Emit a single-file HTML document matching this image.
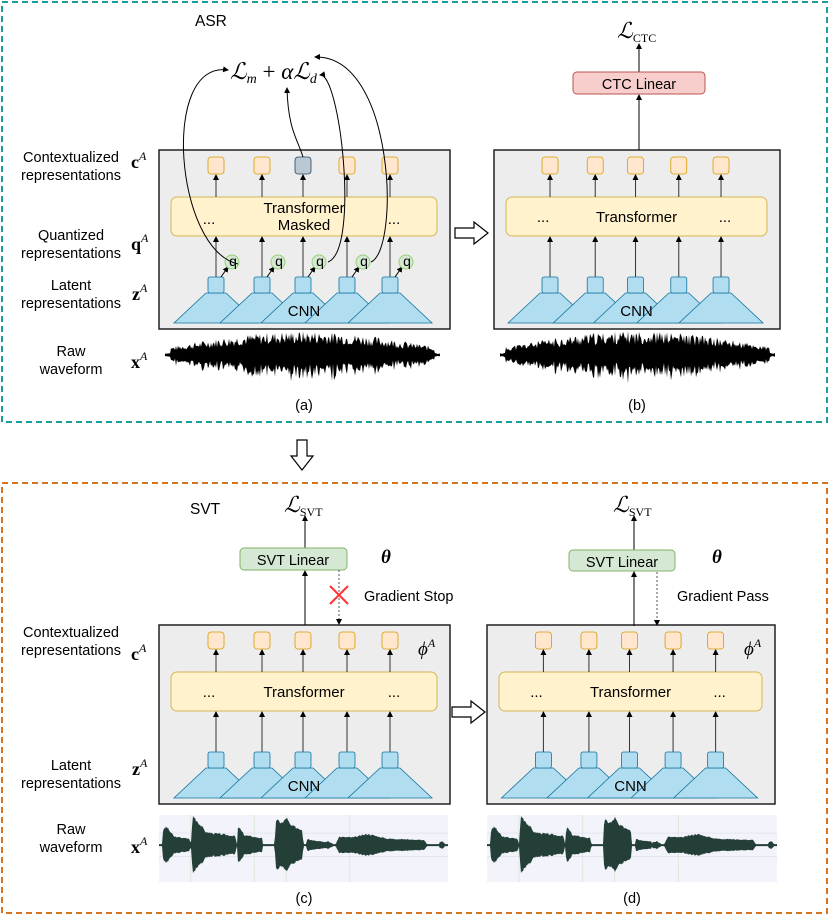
<!DOCTYPE html>
<html><head><meta charset="utf-8">
<style>
html,body{margin:0;padding:0;background:#fff;}
svg{display:block;}
text{font-family:"Liberation Sans",sans-serif;}
.m{font-family:"Liberation Serif",serif;font-style:italic;}
.b{font-family:"Liberation Serif",serif;font-weight:bold;}
</style></head>
<body>
<svg id="s" width="830" height="916" viewBox="0 0 830 916" xmlns="http://www.w3.org/2000/svg">
<defs>
<marker id="ar" markerWidth="6" markerHeight="6" refX="5" refY="3" orient="auto" markerUnits="userSpaceOnUse"><path d="M0,0 L6,3 L0,6 z" fill="#000"/></marker>
</defs>
<rect x="2" y="2" width="825" height="420" fill="none" stroke="#1b9e9b" stroke-width="2" stroke-dasharray="6,4"/>
<rect x="2" y="483" width="825" height="430" fill="none" stroke="#d5731f" stroke-width="2" stroke-dasharray="6,4"/>
<text x="195" y="26" font-size="15.5">ASR</text>
<text x="190" y="514" font-size="15.5">SVT</text>
<g id="g"></g>
<g font-size="14.5" text-anchor="middle">
<text x="71" y="162">Contextualized</text><text x="71" y="180">representations</text>
<text x="71" y="240">Quantized</text><text x="71" y="258">representations</text>
<text x="71" y="290">Latent</text><text x="71" y="308">representations</text>
<text x="71" y="356">Raw</text><text x="71" y="374">waveform</text>
<text x="71" y="637">Contextualized</text><text x="71" y="655">representations</text>
<text x="71" y="770">Latent</text><text x="71" y="788">representations</text>
<text x="71" y="834">Raw</text><text x="71" y="852">waveform</text>
</g>
<g font-size="18">
<text x="131" y="168" class="b">c<tspan font-size="12" dy="-8" class="m" font-weight="normal">A</tspan></text>
<text x="131" y="250" class="b">q<tspan font-size="12" dy="-8" class="m" font-weight="normal">A</tspan></text>
<text x="132" y="300" class="b">z<tspan font-size="12" dy="-8" class="m" font-weight="normal">A</tspan></text>
<text x="131" y="368" class="b">x<tspan font-size="12" dy="-8" class="m" font-weight="normal">A</tspan></text>
<text x="131" y="660" class="b">c<tspan font-size="12" dy="-8" class="m" font-weight="normal">A</tspan></text>
<text x="132" y="775" class="b">z<tspan font-size="12" dy="-8" class="m" font-weight="normal">A</tspan></text>
<text x="131" y="853" class="b">x<tspan font-size="12" dy="-8" class="m" font-weight="normal">A</tspan></text>
</g>
<text x="230" y="79" font-size="23" class="m">ℒ<tspan font-size="14" dy="4">m</tspan><tspan dy="-4" font-style="normal"> + </tspan>αℒ<tspan font-size="14" dy="4">d</tspan></text>
<text x="617" y="38" font-size="22" class="m">ℒ<tspan font-size="12" dy="4" font-style="normal">CTC</tspan></text>
<text x="284" y="512" font-size="22" class="m">ℒ<tspan font-size="12" dy="4" font-style="normal">SVT</tspan></text>
<text x="613" y="512" font-size="22" class="m">ℒ<tspan font-size="12" dy="4" font-style="normal">SVT</tspan></text>
<line x1="639" y1="72" x2="639" y2="44" stroke="#000" marker-end="url(#ar)"/>
<rect x="573" y="72" width="132" height="22" rx="4" fill="#f8cecc" stroke="#b85450"/>
<text x="639" y="89" font-size="14.5" text-anchor="middle">CTC Linear</text>
<line x1="639" y1="150" x2="639" y2="95" stroke="#000" marker-end="url(#ar)"/>

<line x1="305" y1="548" x2="305" y2="516" stroke="#000" marker-end="url(#ar)"/>
<rect x="240" y="548" width="107" height="22" rx="4" fill="#d5e8d4" stroke="#82b366"/>
<text x="293" y="565" font-size="14.5" text-anchor="middle">SVT Linear</text>
<line x1="305" y1="625" x2="305" y2="571" stroke="#000" marker-end="url(#ar)"/>
<line x1="339" y1="570" x2="339" y2="624" stroke="#555" stroke-dasharray="2,2" marker-end="url(#ar)"/>
<path d="M330,586 L348,604 M348,586 L330,604" stroke="#f33" stroke-width="2"/>
<text x="364" y="601" font-size="14.5">Gradient  Stop</text>
<text x="381" y="563" font-size="19" class="m" font-weight="bold">θ</text>

<line x1="634" y1="550" x2="634" y2="516" stroke="#000" marker-end="url(#ar)"/>
<rect x="569" y="550" width="106" height="21" rx="4" fill="#d5e8d4" stroke="#82b366"/>
<text x="622" y="567" font-size="14.5" text-anchor="middle">SVT Linear</text>
<line x1="634" y1="626" x2="634" y2="572" stroke="#000" marker-end="url(#ar)"/>
<line x1="657" y1="572" x2="657" y2="625" stroke="#555" stroke-dasharray="2,2" marker-end="url(#ar)"/>
<text x="677" y="601" font-size="14.5">Gradient  Pass</text>
<text x="712" y="563" font-size="19" class="m" font-weight="bold">θ</text>
<text x="418" y="655" font-size="19" class="m">ϕ<tspan font-size="12" dy="-8">A</tspan></text>
<text x="744" y="655" font-size="19" class="m">ϕ<tspan font-size="12" dy="-8">A</tspan></text>

<g font-size="14.5" text-anchor="middle">
<text x="304" y="410">(a)</text><text x="637" y="410">(b)</text>
<text x="304" y="903">(c)</text><text x="632" y="903">(d)</text>
</g>
<path d="M455,228 L474,228 L474,222 L488,233 L474,244 L474,238 L455,238 z" fill="#fff" stroke="#000" stroke-width="1.2"/>
<path d="M452,707 L471,707 L471,701 L485,712 L471,723 L471,717 L452,717 z" fill="#fff" stroke="#000" stroke-width="1.2"/>
<path d="M297,440 L307,440 L307,456 L313,456 L302,470 L291,456 L297,456 z" fill="#fff" stroke="#000" stroke-width="1.2"/>
</svg>
<script>
var NS="http://www.w3.org/2000/svg",g=document.getElementById('g');
function el(t,a){var e=document.createElementNS(NS,t);for(var k in a)e.setAttribute(k,a[k]);g.appendChild(e);return e;}
function txt(x,y,s,sz){var e=el('text',{x:x,y:y,'font-size':sz||15,'text-anchor':'middle'});e.textContent=s;}
function panel(x0,y0,w,h,opts){
  el('rect',{x:x0,y:y0,width:w,height:h,fill:'#ededed',stroke:'#222','stroke-width':1.5});
  var sx=w/291, cs=[57,103,144,188,231].map(function(c){return x0+c*sx;});
  var ty=y0+47, th=39;
  cs.forEach(function(c){
    el('line',{x1:c,y1:y0+127,x2:c,y2:ty+th+1,stroke:'#333','marker-end':'url(#ar)'});
  });
  el('rect',{x:x0+12,y:ty,width:w-25,height:th,rx:6,fill:'#fff2cc',stroke:'#d6b656'});
  cs.forEach(function(c,i){
    el('line',{x1:c,y1:ty,x2:c,y2:y0+25,stroke:'#333','marker-end':'url(#ar)'});
    el('rect',{x:c-8,y:y0+7,width:16,height:17,rx:3,fill:(opts.mask&&i==2)?'#bac8d3':'#ffe6cc',stroke:(opts.mask&&i==2)?'#23445d':'#d79b00','stroke-width':0.8});
  });
  if(opts.mask){txt(x0+145,ty+16,'Transformer');txt(x0+145,ty+33,'Masked');}
  else txt(x0+145*sx,ty+25,'Transformer');
  txt(x0+50*sx,ty+(opts.mask?27:25),'...');txt(x0+235*sx,ty+(opts.mask?27:25),'...');
  var by=y0+143;
  cs.forEach(function(c){
    el('path',{d:'M'+(c-10)+','+by+' L'+(c+10)+','+by+' L'+(c+42)+','+(y0+173)+' L'+(c-42)+','+(y0+173)+' z',fill:'#b1ddf0',stroke:'#10739e','stroke-width':0.8});
    el('rect',{x:c-8,y:y0+127,width:16,height:16,rx:2,fill:'#b1ddf0',stroke:'#10739e','stroke-width':0.8});
  });
  txt(x0+145*sx,y0+166,'CNN',15);
  if(opts.q){
    cs.forEach(function(c){
      el('line',{x1:c+5,y1:y0+127,x2:c+12,y2:y0+117,stroke:'#000','marker-end':'url(#ar)'});
      el('circle',{cx:c+16,cy:y0+112,r:7,fill:'#d5e8d4',stroke:'#97d077'});
      txt(c+17,y0+116,'q',14);
    });
  }
}
panel(159,150,291,179,{mask:1,q:1});
panel(494,150,286,179,{});
panel(159,625,291,179,{});
panel(487,625,288,179,{});
el('path',{d:'M238,264 C175,250 160,60 228,70',fill:'none',stroke:'#000','marker-end':'url(#ar)'});
el('path',{d:'M303,157 C298,140 288,130 287,88',fill:'none',stroke:'#000','marker-end':'url(#ar)'});
el('path',{d:'M328,262 C360,250 340,72 320,75',fill:'none',stroke:'#000','marker-end':'url(#ar)'});
el('path',{d:'M371,262 C400,250 395,55 315,57',fill:'none',stroke:'#000','marker-end':'url(#ar)'});
function rnd(s){return function(){s=(s*9301+49297)%233280;return s/233280;};}
function wave(x0,x1,cy,amp,seed,fill){
  var r=rnd(seed),up=[],dn=[];
  for(var x=x0;x<=x1;x+=1){
    var t=(x-x0)/(x1-x0),env=amp*(0.3+0.7*Math.sin(Math.PI*t))*(0.45+0.55*r());
    if(t<0.02||t>0.98)env*=0.3;
    up.push(x+','+(cy-env).toFixed(1));dn.unshift(x+','+(cy+env*(0.7+0.5*r())).toFixed(1));
  }
  el('polygon',{points:up.concat(dn).join(' '),fill:fill});
}
wave(165,440,355,24,7,'#000');
wave(500,775,355,24,11,'#000');
function speech(x0,y0,w,h){
  el('rect',{x:x0,y:y0,width:w,height:h,fill:'#f3f3fc'});
  [0.11,0.33,0.44,0.66].forEach(function(f){el('line',{x1:x0+f*w,y1:y0,x2:x0+f*w,y2:y0+h,stroke:'#dde8dd'});});
  el('line',{x1:x0,y1:y0+h*0.27,x2:x0+w,y2:y0+h*0.27,stroke:'#e4e4ee'});
  el('line',{x1:x0,y1:y0+h*0.62,x2:x0+w,y2:y0+h*0.62,stroke:'#e4e4ee'});
  var segs=[[0.01,0.11,0.6,0.15,0.55],[0.11,0.27,0.95,0.05,0.5],[0.27,0.36,0.6,0.05,0.6],[0.4,0.5,0.9,0.4,0.9],[0.51,0.57,0.22,0.1,0.85],[0.57,0.6,0.14,0.5,0.8],[0.61,0.93,0.36,0.35,0.75],[0.97,0.99,0.14,0.5,0.8]];
  var r=rnd(3),cy=y0+h*0.45,up=[],dn=[];
  for(var x=x0;x<=x0+w;x++){
    var t=(x-x0)/w,a=1;
    segs.forEach(function(s){if(t>=s[0]&&t<=s[1]){var u=(t-s[0])/(s[1]-s[0]);var d=Math.abs(u-s[3]);var e=Math.max(s[4]*(1-u*0.4),1-d*2);e=Math.min(1,e);if(u<0.04)e*=u/0.04;if(u>0.96)e*=(1-u)/0.04;a=h*0.5*s[2]*e*(0.85+0.15*r());}});
    if(a<1)a=1;
    up.push(x+','+(cy-a).toFixed(1));dn.unshift(x+','+(cy+a*0.95).toFixed(1));
  }
  el('polygon',{points:up.concat(dn).join(' '),fill:'#233f37'});
}
speech(159,815,289,67);
speech(487,815,290,67);
</script>
</body></html>
